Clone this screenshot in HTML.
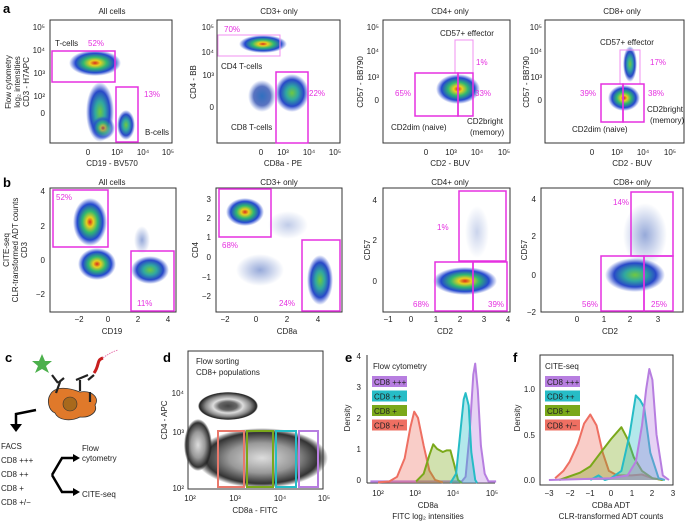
<!DOCTYPE html>
<html><head><meta charset="utf-8">
<style>
html,body{margin:0;padding:0;background:#fff;}
svg{display:block;font-family:"Liberation Sans",sans-serif;}
.t{font-size:8px;fill:#222;}
.tk{font-size:8px;fill:#222;}
.g{fill:none;stroke:#e530e0;stroke-width:1.5;}
.gt{fill:none;stroke:#f090f0;stroke-width:1;}
.m{font-size:8px;fill:#e530e0;}
.fr{fill:none;stroke:#333;stroke-width:1;}
.L{font-size:13px;font-weight:bold;fill:#000;}
</style></head>
<body>
<svg id="fig" width="685" height="525" viewBox="0 0 685 525">
<defs>
<radialGradient id="hot"><stop offset="0" stop-color="#d82a1e"/><stop offset="0.2" stop-color="#e8d020"/><stop offset="0.45" stop-color="#30b870"/><stop offset="0.75" stop-color="#2448d0"/><stop offset="1" stop-color="#3050d0" stop-opacity="0"/></radialGradient>
<radialGradient id="warm"><stop offset="0" stop-color="#70c840"/><stop offset="0.35" stop-color="#30a8a0"/><stop offset="0.7" stop-color="#2848c8"/><stop offset="1" stop-color="#3050d0" stop-opacity="0"/></radialGradient>
<radialGradient id="cool"><stop offset="0" stop-color="#3070c0"/><stop offset="0.6" stop-color="#3050b0" stop-opacity="0.8"/><stop offset="1" stop-color="#5070d0" stop-opacity="0"/></radialGradient>
<radialGradient id="thin"><stop offset="0" stop-color="#5070c0" stop-opacity="0.6"/><stop offset="1" stop-color="#5070c0" stop-opacity="0"/></radialGradient>
<radialGradient id="gray"><stop offset="0" stop-color="#ddd"/><stop offset="0.5" stop-color="#999"/><stop offset="0.85" stop-color="#333"/><stop offset="1" stop-color="#000" stop-opacity="0"/></radialGradient>
<radialGradient id="ring"><stop offset="0" stop-color="#444"/><stop offset="0.3" stop-color="#666"/><stop offset="0.5" stop-color="#ddd"/><stop offset="0.75" stop-color="#888"/><stop offset="0.95" stop-color="#222"/><stop offset="1" stop-color="#000" stop-opacity="0"/></radialGradient>
</defs>

<text class="L" x="3" y="13">a</text>
<text class="L" x="3" y="187">b</text>
<text class="L" x="5" y="362">c</text>
<text class="L" x="163" y="362">d</text>
<text class="L" x="345" y="362">e</text>
<text class="L" x="513" y="362">f</text>

<!-- ===== Row a ===== -->
<g>
<text class="t" x="112" y="14" text-anchor="middle">All cells</text>
<ellipse cx="100" cy="112" rx="14" ry="30" fill="url(#warm)"/>
<ellipse cx="103" cy="128" rx="12" ry="12" fill="url(#hot)" opacity="0.7"/>
<ellipse cx="126" cy="125" rx="9" ry="15" fill="url(#warm)"/>
<ellipse cx="95" cy="63" rx="26" ry="13" fill="url(#hot)"/>
<rect x="50" y="20" width="122" height="123" class="fr"/>
<rect class="g" x="52" y="51" width="63" height="31"/>
<rect class="g" x="116" y="87" width="22" height="55"/>
<text class="t" x="55" y="46">T-cells</text><text class="m" x="88" y="46">52%</text>
<text class="m" x="144" y="97">13%</text><text class="t" x="145" y="135">B-cells</text>
<text class="tk" x="45" y="30" text-anchor="end">10⁵</text><text class="tk" x="45" y="53" text-anchor="end">10⁴</text>
<text class="tk" x="45" y="76" text-anchor="end">10³</text><text class="tk" x="45" y="99" text-anchor="end">10²</text>
<text class="tk" x="45" y="116" text-anchor="end">0</text>
<text class="tk" x="88" y="155" text-anchor="middle">0</text><text class="tk" x="117" y="155" text-anchor="middle">10³</text>
<text class="tk" x="143" y="155" text-anchor="middle">10⁴</text><text class="tk" x="168" y="155" text-anchor="middle">10⁵</text>
<text class="t" x="112" y="166" text-anchor="middle">CD19 - BV570</text>
<text class="t" transform="translate(11,82) rotate(-90)" text-anchor="middle">Flow cytometry</text>
<text class="t" transform="translate(20,82) rotate(-90)" text-anchor="middle">log₂ intensities</text>
<text class="t" transform="translate(29,82) rotate(-90)" text-anchor="middle">CD3 - H7APC</text>
</g>

<g>
<text class="t" x="279" y="14" text-anchor="middle">CD3+ only</text>
<ellipse cx="262" cy="96" rx="14" ry="16" fill="url(#cool)"/>
<ellipse cx="292" cy="93" rx="17" ry="19" fill="url(#warm)"/>
<ellipse cx="263" cy="44" rx="24" ry="9" fill="url(#hot)"/>
<rect x="217" y="20" width="123" height="123" class="fr"/>
<rect class="gt" x="218" y="35" width="62" height="21"/>
<rect class="g" x="276" y="72" width="32" height="71"/>
<text class="m" x="224" y="32">70%</text><text class="t" x="221" y="69">CD4 T-cells</text>
<text class="m" x="309" y="96">22%</text><text class="t" x="231" y="130">CD8 T-cells</text>
<text class="tk" x="214" y="30" text-anchor="end">10⁵</text><text class="tk" x="214" y="55" text-anchor="end">10⁴</text>
<text class="tk" x="214" y="78" text-anchor="end">10³</text><text class="tk" x="214" y="110" text-anchor="end">0</text>
<text class="tk" x="261" y="155" text-anchor="middle">0</text><text class="tk" x="283" y="155" text-anchor="middle">10³</text>
<text class="tk" x="309" y="155" text-anchor="middle">10⁴</text><text class="tk" x="335" y="155" text-anchor="middle">10⁵</text>
<text class="t" x="283" y="166" text-anchor="middle">CD8a - PE</text>
<text class="t" transform="translate(196,82) rotate(-90)" text-anchor="middle">CD4 - BB</text>
</g>

<g>
<text class="t" x="450" y="14" text-anchor="middle">CD4+ only</text>
<ellipse cx="458" cy="89" rx="22" ry="15" fill="url(#hot)"/>
<rect x="383" y="20" width="127" height="123" class="fr"/>
<rect class="gt" x="455" y="40" width="18" height="33"/>
<rect class="g" x="415" y="73" width="43" height="43"/>
<rect class="g" x="458" y="73" width="15" height="43"/>
<text class="t" x="440" y="36">CD57+ effector</text><text class="m" x="476" y="65">1%</text>
<text class="m" x="395" y="96">65%</text><text class="m" x="475" y="96">33%</text>
<text class="t" x="391" y="130">CD2dim (naive)</text><text class="t" x="467" y="124">CD2bright</text><text class="t" x="470" y="135">(memory)</text>
<text class="tk" x="379" y="30" text-anchor="end">10⁵</text><text class="tk" x="379" y="54" text-anchor="end">10⁴</text>
<text class="tk" x="379" y="80" text-anchor="end">10³</text><text class="tk" x="379" y="103" text-anchor="end">0</text>
<text class="tk" x="426" y="155" text-anchor="middle">0</text><text class="tk" x="451" y="155" text-anchor="middle">10³</text>
<text class="tk" x="477" y="155" text-anchor="middle">10⁴</text><text class="tk" x="504" y="155" text-anchor="middle">10⁵</text>
<text class="t" x="450" y="166" text-anchor="middle">CD2 - BUV</text>
<text class="t" transform="translate(363,82) rotate(-90)" text-anchor="middle">CD57 - BB790</text>
</g>

<g>
<text class="t" x="622" y="14" text-anchor="middle">CD8+ only</text>
<ellipse cx="630" cy="64" rx="7" ry="18" fill="url(#warm)"/>
<ellipse cx="624" cy="98" rx="16" ry="13" fill="url(#hot)"/>
<rect x="545" y="20" width="139" height="123" class="fr"/>
<rect class="gt" x="620" y="50" width="20" height="34"/>
<rect class="g" x="601" y="84" width="22" height="38"/>
<rect class="g" x="623" y="84" width="21" height="38"/>
<text class="t" x="600" y="45">CD57+ effector</text><text class="m" x="650" y="65">17%</text>
<text class="m" x="580" y="96">39%</text><text class="m" x="648" y="96">38%</text>
<text class="t" x="647" y="112">CD2bright</text><text class="t" x="650" y="123">(memory)</text>
<text class="t" x="572" y="132">CD2dim (naive)</text>
<text class="tk" x="542" y="30" text-anchor="end">10⁵</text><text class="tk" x="542" y="54" text-anchor="end">10⁴</text>
<text class="tk" x="542" y="80" text-anchor="end">10³</text><text class="tk" x="542" y="103" text-anchor="end">0</text>
<text class="tk" x="592" y="155" text-anchor="middle">0</text><text class="tk" x="617" y="155" text-anchor="middle">10³</text>
<text class="tk" x="643" y="155" text-anchor="middle">10⁴</text><text class="tk" x="670" y="155" text-anchor="middle">10⁵</text>
<text class="t" x="632" y="166" text-anchor="middle">CD2 - BUV</text>
<text class="t" transform="translate(529,82) rotate(-90)" text-anchor="middle">CD57 - BB790</text>
</g>

<!-- ===== Row b ===== -->
<g>
<text class="t" x="112" y="185" text-anchor="middle">All cells</text>
<ellipse cx="90" cy="222" rx="17" ry="24" fill="url(#hot)"/>
<ellipse cx="97" cy="264" rx="19" ry="16" fill="url(#hot)"/>
<ellipse cx="150" cy="270" rx="19" ry="14" fill="url(#warm)"/>
<ellipse cx="142" cy="240" rx="8" ry="14" fill="url(#thin)"/>
<rect x="50" y="188" width="126" height="124" class="fr"/>
<rect class="g" x="53" y="190" width="55" height="57"/>
<rect class="g" x="131" y="251" width="43" height="60"/>
<text class="m" x="56" y="200">52%</text><text class="m" x="137" y="306">11%</text>
<text class="tk" x="45" y="194" text-anchor="end">4</text><text class="tk" x="45" y="229" text-anchor="end">2</text>
<text class="tk" x="45" y="263" text-anchor="end">0</text><text class="tk" x="45" y="297" text-anchor="end">−2</text>
<text class="tk" x="79" y="322" text-anchor="middle">−2</text><text class="tk" x="108" y="322" text-anchor="middle">0</text>
<text class="tk" x="138" y="322" text-anchor="middle">2</text><text class="tk" x="168" y="322" text-anchor="middle">4</text>
<text class="t" x="112" y="334" text-anchor="middle">CD19</text>
<text class="t" transform="translate(9,250) rotate(-90)" text-anchor="middle">CITE-seq</text>
<text class="t" transform="translate(18,250) rotate(-90)" text-anchor="middle">CLR-transformed ADT counts</text>
<text class="t" transform="translate(27,250) rotate(-90)" text-anchor="middle">CD3</text>
</g>

<g>
<text class="t" x="279" y="185" text-anchor="middle">CD3+ only</text>
<ellipse cx="260" cy="270" rx="24" ry="16" fill="url(#thin)"/>
<ellipse cx="288" cy="225" rx="20" ry="14" fill="url(#thin)" opacity="0.6"/>
<ellipse cx="245" cy="212" rx="19" ry="14" fill="url(#hot)"/>
<ellipse cx="320" cy="280" rx="13" ry="25" fill="url(#warm)"/>
<rect x="216" y="188" width="126" height="124" class="fr"/>
<rect class="g" x="219" y="189" width="52" height="48"/>
<rect class="g" x="302" y="240" width="38" height="71"/>
<text class="m" x="222" y="248">68%</text><text class="m" x="279" y="306">24%</text>
<text class="tk" x="211" y="202" text-anchor="end">3</text><text class="tk" x="211" y="221" text-anchor="end">2</text>
<text class="tk" x="211" y="240" text-anchor="end">1</text><text class="tk" x="211" y="260" text-anchor="end">0</text>
<text class="tk" x="211" y="280" text-anchor="end">−1</text><text class="tk" x="211" y="299" text-anchor="end">−2</text>
<text class="tk" x="225" y="322" text-anchor="middle">−2</text><text class="tk" x="256" y="322" text-anchor="middle">0</text>
<text class="tk" x="287" y="322" text-anchor="middle">2</text><text class="tk" x="318" y="322" text-anchor="middle">4</text>
<text class="t" x="287" y="334" text-anchor="middle">CD8a</text>
<text class="t" transform="translate(198,250) rotate(-90)" text-anchor="middle">CD4</text>
</g>

<g>
<text class="t" x="450" y="185" text-anchor="middle">CD4+ only</text>
<ellipse cx="477" cy="232" rx="12" ry="26" fill="url(#thin)" opacity="0.5"/>
<ellipse cx="465" cy="281" rx="32" ry="14" fill="url(#hot)"/>
<rect x="383" y="188" width="127" height="124" class="fr"/>
<rect class="g" x="459" y="191" width="47" height="70"/>
<rect class="g" x="435" y="262" width="38" height="49"/>
<rect class="g" x="473" y="262" width="34" height="49"/>
<text class="m" x="437" y="230">1%</text><text class="m" x="413" y="307">68%</text><text class="m" x="488" y="307">39%</text>
<text class="tk" x="377" y="203" text-anchor="end">4</text><text class="tk" x="377" y="243" text-anchor="end">2</text>
<text class="tk" x="377" y="284" text-anchor="end">0</text>
<text class="tk" x="388" y="322" text-anchor="middle">−1</text><text class="tk" x="411" y="322" text-anchor="middle">0</text>
<text class="tk" x="436" y="322" text-anchor="middle">1</text><text class="tk" x="460" y="322" text-anchor="middle">2</text>
<text class="tk" x="484" y="322" text-anchor="middle">3</text><text class="tk" x="508" y="322" text-anchor="middle">4</text>
<text class="t" x="445" y="334" text-anchor="middle">CD2</text>
<text class="t" transform="translate(370,250) rotate(-90)" text-anchor="middle">CD57</text>
</g>

<g>
<text class="t" x="632" y="185" text-anchor="middle">CD8+ only</text>
<ellipse cx="645" cy="235" rx="22" ry="32" fill="url(#thin)"/>
<ellipse cx="635" cy="275" rx="30" ry="17" fill="url(#warm)"/>
<rect x="541" y="188" width="142" height="124" class="fr"/>
<rect class="g" x="631" y="192" width="42" height="64"/>
<rect class="g" x="601" y="256" width="43" height="55"/>
<rect class="g" x="644" y="256" width="29" height="55"/>
<text class="m" x="613" y="205">14%</text><text class="m" x="582" y="307">56%</text><text class="m" x="651" y="307">25%</text>
<text class="tk" x="536" y="202" text-anchor="end">4</text><text class="tk" x="536" y="239" text-anchor="end">2</text>
<text class="tk" x="536" y="278" text-anchor="end">0</text><text class="tk" x="536" y="315" text-anchor="end">−2</text>
<text class="tk" x="577" y="322" text-anchor="middle">0</text><text class="tk" x="604" y="322" text-anchor="middle">1</text>
<text class="tk" x="630" y="322" text-anchor="middle">2</text><text class="tk" x="658" y="322" text-anchor="middle">3</text>
<text class="t" x="610" y="334" text-anchor="middle">CD2</text>
<text class="t" transform="translate(527,250) rotate(-90)" text-anchor="middle">CD57</text>
</g>

<!-- ===== Panel c ===== -->
<g>
<polygon points="42,354 45,361 52,361 46,366 49,373 42,369 35,373 38,366 32,361 39,361" fill="#4cb04c"/>
<path d="M50,395 C55,385 70,388 80,392 C92,390 100,398 95,405 C98,412 90,418 80,417 C70,422 58,420 55,413 C48,410 47,400 50,395 Z" fill="#e0792a" stroke="#333" stroke-width="0.8"/>
<circle cx="70" cy="404" r="7" fill="#a8691c" stroke="#333" stroke-width="0.6"/>
<path d="M56,393 L60,382 M52,375 L58,383 M64,378 L58,383 M80,391 L80,380 M76,380 L88,375 M88,380 L94,375 M90,392 L90,402" stroke="#222" stroke-width="2.2" fill="none"/>
<path d="M94,373 C100,365 96,360 103,358" stroke="#c81e1e" stroke-width="3" fill="none"/>
<path d="M103,358 C108,354 112,352 118,350" stroke="#e878b0" stroke-width="1" stroke-dasharray="1.5 1" fill="none"/>
<path d="M36,410 L16,414 L16,426" stroke="#000" stroke-width="2.5" fill="none"/>
<polygon points="10,424 22,424 16,432" fill="#000"/>
<text class="t" x="1" y="449">FACS</text>
<text class="t" x="1" y="463">CD8 +++</text><text class="t" x="1" y="477">CD8 ++</text>
<text class="t" x="1" y="491">CD8 +</text><text class="t" x="1" y="505">CD8 +/−</text>
<path d="M52,475 L62,458 L74,458 M52,475 L62,492 L74,492" stroke="#000" stroke-width="2.5" fill="none"/>
<polygon points="73,454 80,458 73,462" fill="#000"/><polygon points="73,488 80,492 73,496" fill="#000"/>
<text class="t" x="82" y="451">Flow</text><text class="t" x="82" y="461">cytometry</text>
<text class="t" x="82" y="497">CITE-seq</text>
</g>

<!-- ===== Panel d ===== -->
<g>
<ellipse cx="262" cy="458" rx="66" ry="30" fill="url(#gray)"/>
<ellipse cx="198" cy="445" rx="14" ry="26" fill="url(#gray)"/>
<ellipse cx="228" cy="406" rx="30" ry="14" fill="url(#ring)"/>
<rect x="188" y="351" width="135" height="138" class="fr"/>
<rect x="218" y="431" width="26" height="56" fill="none" stroke="#e8786b" stroke-width="2"/>
<rect x="247" y="431" width="26" height="56" fill="none" stroke="#7aa81a" stroke-width="2"/>
<rect x="276" y="431" width="20" height="56" fill="none" stroke="#26bcc6" stroke-width="2"/>
<rect x="299" y="431" width="19" height="56" fill="none" stroke="#b77ee0" stroke-width="2"/>
<text class="t" x="196" y="364">Flow sorting</text><text class="t" x="196" y="375">CD8+ populations</text>
<text class="tk" x="184" y="396" text-anchor="end">10⁴</text><text class="tk" x="184" y="435" text-anchor="end">10³</text>
<text class="tk" x="184" y="491" text-anchor="end">10²</text>
<text class="tk" x="190" y="501" text-anchor="middle">10²</text><text class="tk" x="235" y="501" text-anchor="middle">10³</text>
<text class="tk" x="280" y="501" text-anchor="middle">10⁴</text><text class="tk" x="324" y="501" text-anchor="middle">10⁵</text>
<text class="t" x="255" y="513" text-anchor="middle">CD8a - FITC</text>
<text class="t" transform="translate(167,420) rotate(-90)" text-anchor="middle">CD4 - APC</text>
</g>

<!-- ===== Panel e ===== -->
<g id="pe">
<line x1="367" y1="355" x2="367" y2="483" stroke="#333"/>
<line x1="367" y1="483" x2="495" y2="483" stroke="#333"/>
<text class="tk" x="361" y="483" text-anchor="end">0</text><text class="tk" x="361" y="452" text-anchor="end">1</text>
<text class="tk" x="361" y="421" text-anchor="end">2</text><text class="tk" x="361" y="390" text-anchor="end">3</text>
<text class="tk" x="361" y="359" text-anchor="end">4</text>
<text class="tk" x="378" y="496" text-anchor="middle">10²</text><text class="tk" x="415" y="496" text-anchor="middle">10³</text>
<text class="tk" x="453" y="496" text-anchor="middle">10⁴</text><text class="tk" x="492" y="496" text-anchor="middle">10⁵</text>
<text class="t" x="428" y="508" text-anchor="middle">CD8a</text>
<text class="t" x="428" y="519" text-anchor="middle">FITC log₂ intensities</text>
<text class="t" transform="translate(350,418) rotate(-90)" text-anchor="middle">Density</text>
<text class="t" x="373" y="369">Flow cytometry</text>
</g>

<!-- ===== Panel f ===== -->
<g id="pf">
<rect x="540" y="355" width="133" height="130" class="fr"/>
<text class="tk" x="535" y="483" text-anchor="end">0.0</text><text class="tk" x="535" y="438" text-anchor="end">0.5</text>
<text class="tk" x="535" y="392" text-anchor="end">1.0</text>
<text class="tk" x="549" y="496" text-anchor="middle">−3</text><text class="tk" x="570" y="496" text-anchor="middle">−2</text>
<text class="tk" x="590" y="496" text-anchor="middle">−1</text><text class="tk" x="611" y="496" text-anchor="middle">0</text>
<text class="tk" x="632" y="496" text-anchor="middle">1</text><text class="tk" x="652" y="496" text-anchor="middle">2</text>
<text class="tk" x="673" y="496" text-anchor="middle">3</text>
<text class="t" x="611" y="508" text-anchor="middle">CD8a ADT</text>
<text class="t" x="611" y="519" text-anchor="middle">CLR-transformed ADT counts</text>
<text class="t" transform="translate(520,418) rotate(-90)" text-anchor="middle">Density</text>
<text class="t" x="545" y="369">CITE-seq</text>
</g>
</svg>

<script>
// ---- chart data: panel e (x = log10 FITC intensity, y = density) ----
const eRedX = [2.0,2.3,2.5,2.7,2.85,2.95,3.05,3.2,3.35,3.5,3.7];
const eRedY = [0.02,0.05,0.2,0.8,1.8,2.3,2.1,1.2,0.4,0.1,0.02];
const eGreenX = [3.0,3.2,3.35,3.45,3.55,3.7,3.8,3.9,4.0,4.1,4.2];
const eGreenY = [0.05,0.3,0.9,1.25,1.1,1.0,1.05,1.05,0.6,0.1,0];
const eCyanX = [3.9,4.05,4.15,4.25,4.3,4.38,4.45,4.55,4.6];
const eCyanY = [0,0.3,1.5,2.7,2.9,2.5,1.0,0.1,0];
const ePurpleX = [1.8,3.0,4.2,4.3,4.4,4.5,4.55,4.62,4.7,4.8,4.9,5.1];
const ePurpleY = [0.05,0.05,0.05,0.2,1.5,3.5,3.85,3.0,1.2,0.3,0.05,0.05];
// ---- chart data: panel f (x = CLR ADT counts, y = density) ----
const fRedX = [-2.7,-2.3,-2.0,-1.6,-1.3,-1.0,-0.7,-0.4,-0.1,0.3,1.0,1.5,2.0,2.5];
const fRedY = [0.02,0.1,0.2,0.4,0.62,0.72,0.6,0.3,0.1,0.05,0.05,0.06,0.02,0];
const fGreenX = [-2.5,-1.5,-1.0,-0.5,0,0.5,0.8,1.1,1.5,2.0,2.5];
const fGreenY = [0,0.08,0.15,0.3,0.45,0.58,0.45,0.25,0.1,0.02,0];
const fCyanX = [-1.0,-0.6,-0.3,0,0.5,0.9,1.2,1.4,1.6,1.9,2.3,2.6];
const fCyanY = [0,0.05,0,0.02,0.1,0.5,0.93,0.88,0.8,0.3,0.02,0];
const fPurpleX = [-3.0,0,0.8,1.2,1.5,1.7,1.85,2.0,2.2,2.5,2.8];
const fPurpleY = [0,0.02,0.05,0.2,0.6,1.0,1.22,1.1,0.5,0.05,0];
const legendLabels = ["CD8 +++","CD8 ++","CD8 +","CD8 +/−"];
const seriesColors = ["#b77ee0","#26bcc6","#7aa81a","#ee6f62"];

const NS = "http://www.w3.org/2000/svg";
const exScale = v => 378 + (v - 2) * 38.1;
const eyScale = v => 483 - v * 31;
const fxScale = v => 611 + v * 20.7;
const fyScale = v => 480 - v * 91;

function drawCurve(parent, xs, ys, sx, sy, color, name) {
  let d = "";
  for (let i = 0; i < xs.length; i++) d += (i ? "L" : "M") + sx(xs[i]).toFixed(1) + "," + sy(ys[i]).toFixed(1);
  const area = document.createElementNS(NS, "path");
  area.setAttribute("d", d + "L" + sx(xs[xs.length-1]).toFixed(1) + "," + sy(0) + "L" + sx(xs[0]).toFixed(1) + "," + sy(0) + "Z");
  area.setAttribute("fill", color);
  area.setAttribute("fill-opacity", "0.35");
  
  
  parent.appendChild(area);
  const line = document.createElementNS(NS, "path");
  line.setAttribute("d", d);
  line.setAttribute("fill", "none");
  line.setAttribute("stroke", color);
  line.setAttribute("stroke-width", "2");
  line.setAttribute("stroke-linejoin", "round");
  
  
  parent.appendChild(line);
}
function drawLegend(parent, x0, y0) {
  for (let i = 0; i < legendLabels.length; i++) {
    const r = document.createElementNS(NS, "rect");
    r.setAttribute("x", x0); r.setAttribute("y", y0 + i * 14.5);
    r.setAttribute("width", 35); r.setAttribute("height", 11);
    r.setAttribute("fill", seriesColors[i]);
    
    
    parent.appendChild(r);
    const t = document.createElementNS(NS, "text");
    t.setAttribute("x", x0 + 2); t.setAttribute("y", y0 + i * 14.5 + 9);
    t.setAttribute("class", "t");
    t.textContent = legendLabels[i];
    
    
    parent.appendChild(t);
  }
}
const pe = document.getElementById("pe");
drawCurve(pe, ePurpleX, ePurpleY, exScale, eyScale, seriesColors[0], "e-cd8-plusplusplus");
drawCurve(pe, eRedX, eRedY, exScale, eyScale, seriesColors[3], "e-cd8-plusminus");
drawCurve(pe, eGreenX, eGreenY, exScale, eyScale, seriesColors[2], "e-cd8-plus");
drawCurve(pe, eCyanX, eCyanY, exScale, eyScale, seriesColors[1], "e-cd8-plusplus");
drawLegend(pe, 372, 376);
const pf = document.getElementById("pf");
drawCurve(pf, fRedX, fRedY, fxScale, fyScale, seriesColors[3], "f-cd8-plusminus");
drawCurve(pf, fGreenX, fGreenY, fxScale, fyScale, seriesColors[2], "f-cd8-plus");
drawCurve(pf, fCyanX, fCyanY, fxScale, fyScale, seriesColors[1], "f-cd8-plusplus");
drawCurve(pf, fPurpleX, fPurpleY, fxScale, fyScale, seriesColors[0], "f-cd8-plusplusplus");
drawLegend(pf, 545, 376);
</script>
</body></html>
